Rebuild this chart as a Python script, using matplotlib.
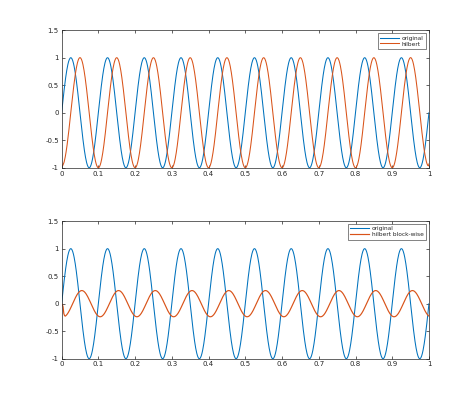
import numpy as np
import matplotlib
matplotlib.use("Agg")
import matplotlib.pyplot as plt

# ---- data (signal parameters) ----
fs = 1000                 # samples per second
duration = 1.0            # seconds
freq = 10                 # Hz (10 cycles on [0, 1])
amp = 1.0                 # amplitude of the original sine
fir_half_len = 5          # short FIR Hilbert (11 taps) used block-wise
x_ticks = [0, 0.1, 0.2, 0.3, 0.4, 0.5, 0.6, 0.7, 0.8, 0.9, 1]
x_tick_labels = ["0", "0.1", "0.2", "0.3", "0.4", "0.5", "0.6", "0.7", "0.8", "0.9", "1"]
y_ticks = [-1, -0.5, 0, 0.5, 1, 1.5]
y_tick_labels = ["-1", "-0.5", "0", "0.5", "1", "1.5"]
legend_top = ["original", "hilbert"]
legend_bottom = ["original", "hilbert block-wise"]

t = np.arange(0, duration + 1e-9, 1 / fs)
original = amp * np.sin(2 * np.pi * freq * t)

# full analytic-signal Hilbert transform via FFT
def hilbert_imag(sig):
    n = len(sig)
    X = np.fft.fft(sig)
    h = np.zeros(n)
    if n % 2 == 0:
        h[0] = h[n // 2] = 1
        h[1:n // 2] = 2
    else:
        h[0] = 1
        h[1:(n + 1) // 2] = 2
    return np.imag(np.fft.ifft(X * h))

hilb = hilbert_imag(original)

# short FIR Hilbert filter output
k = np.arange(-fir_half_len, fir_half_len + 1)
taps = np.zeros(len(k))
odd = k % 2 != 0
taps[odd] = 2 / (np.pi * k[odd])
blockwise = np.convolve(original, taps)[:len(original)]

blue = "#0072BD"
orange = "#D95319"
axcol = "#262626"

fig = plt.figure(figsize=(4.74, 4.03), dpi=100)
ax1 = fig.add_axes([0.13, 0.5838, 0.775, 0.3412])
ax2 = fig.add_axes([0.13, 0.11, 0.775, 0.3412])

ax1.plot(t, original, color=blue, lw=0.75, label=legend_top[0])
ax1.plot(t, hilb, color=orange, lw=0.75, label=legend_top[1])
ax2.plot(t, original, color=blue, lw=0.75, label=legend_bottom[0])
ax2.plot(t, blockwise, color=orange, lw=0.85, label=legend_bottom[1])

for ax in (ax1, ax2):
    ax.set_xlim(0, 1)
    ax.set_ylim(-1, 1.5)
    ax.set_xticks(x_ticks)
    ax.set_xticklabels(x_tick_labels)
    ax.set_yticks(y_ticks)
    ax.set_yticklabels(y_tick_labels)
    ax.tick_params(direction="in", length=2.5, width=0.5, labelsize=5,
                   colors=axcol, top=True, right=True, pad=2)
    for sp in ax.spines.values():
        sp.set_color(axcol)
        sp.set_linewidth(0.5)
    leg = ax.legend(loc="upper right", fontsize=4.2, frameon=True, fancybox=False,
                    handlelength=3.2, borderpad=0.4, labelspacing=0.15,
                    handletextpad=0.5, borderaxespad=0.5)
    leg.get_frame().set_edgecolor(axcol)
    leg.get_frame().set_linewidth(0.5)
    for txt in leg.get_texts():
        txt.set_color(axcol)

fig.savefig("out.png", dpi=100)
